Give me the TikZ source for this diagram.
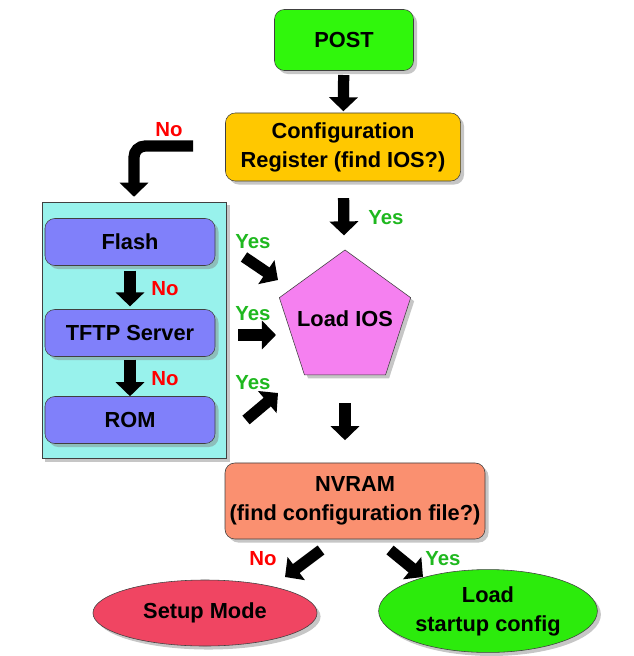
\documentclass[tikz,border=0pt]{standalone}
\usepackage{fontspec}
\setmainfont{Liberation Sans}
\usepackage{xcolor}
\usetikzlibrary{positioning, arrows.meta, shapes.geometric, shadows, calc}

\definecolor{postgreen}{HTML}{30F70C}
\definecolor{cfgyellow}{HTML}{FFC800}
\definecolor{cyanbg}{HTML}{98F2EC}
\definecolor{devblue}{HTML}{8080FA}
\definecolor{iospink}{HTML}{F580F0}
\definecolor{nvsalmon}{HTML}{FA9070}
\definecolor{setupred}{HTML}{F04562}
\definecolor{startgreen}{HTML}{2CEB0C}
\definecolor{yesgreen}{HTML}{1FB81F}

\begin{document}
\begin{tikzpicture}[
  x=0.025cm, y=-0.025cm,
  every node/.style={font=\bfseries\fontsize{15.5}{20.5}\selectfont},
  shade/.style={drop shadow={shadow xshift=2.5pt, shadow yshift=-2.5pt, opacity=0.45}},
  box/.style={draw=black!75, rounded corners=7pt, align=center, shade},
  dev/.style={box, fill=devblue, minimum width=4.25cm, minimum height=1.175cm},
  blk/.style={-{Triangle[length=10pt, width=20pt]}, line width=8pt},
  yes/.style={text=yesgreen, font=\bfseries\fontsize{14.5}{16}\selectfont},
  no/.style={text=red, font=\bfseries\fontsize{14.5}{16}\selectfont},
]
\useasboundingbox (0,0) rectangle (633,656);

% Boot start
\node[box, fill=postgreen, minimum width=3.475cm, minimum height=1.525cm] (post) at (344,40) {POST};
\node[box, fill=cfgyellow, minimum width=5.875cm, minimum height=1.7cm] (config) at (343,147) {Configuration\\Register (find IOS?)};
\draw[blk, shorten <=3pt, shorten >=1pt] (post) -- (config);

% Image sources (left)
\node[draw=black!75, fill=cyanbg, minimum width=4.6cm, minimum height=6.4cm, shade] (src) at (134,330) {};
\node[dev] (flash) at (130,242) {Flash};
\node[dev] (tftp) at (130,333) {TFTP Server};
\node[dev] (rom) at (130,420) {ROM};
\draw[blk, shorten <=3.5pt, shorten >=2pt] (flash) -- (tftp);
\draw[blk, shorten <=2pt] (tftp) -- (rom);
\node[no] at (165,289) {No};
\node[no] at (165,379) {No};

\coordinate (cfg-no) at (193,146);
\draw[blk, rounded corners=8pt, shorten >=3.5pt] (cfg-no) -| (src.north);
\node[no] at (169,130) {No};

% Load IOS
\node[regular polygon, regular polygon sides=5, draw=black!75, fill=iospink,
  minimum size=3.45cm, inner sep=0pt, shade] (ios) at (345,319) {\makebox[0pt]{Load IOS}};
\draw[blk, shorten <=12pt, shorten >=10.5pt] (config) -- (ios);
\node[yes] at (386,218) {Yes};

\coordinate (fl-out) at (244,257);
\coordinate (fl-in) at (278,280);
\coordinate (tf-out) at (238,335);
\coordinate (tf-in) at (276,335);
\coordinate (ro-out) at (246,420);
\coordinate (ro-in) at (278,393);
\draw[blk] (fl-out) -- (fl-in);
\draw[blk] (tf-out) -- (tf-in);
\draw[blk] (ro-out) -- (ro-in);
\node[yes] at (253,242) {Yes};
\node[yes] at (253,314) {Yes};
\node[yes] at (253,383) {Yes};

% Configuration file
\node[box, fill=nvsalmon, minimum width=6.25cm, minimum height=1.9cm] (nvram) at (355,501) {NVRAM\\(find configuration file?)};
\draw[blk, shorten <=20pt, shorten >=16pt] (ios) -- (ios |- nvram.north);

\node[ellipse, draw=black!75, fill=setupred, minimum width=5.6cm, minimum height=1.65cm, shade] (setup) at (205,613) {Setup Mode};
\node[ellipse, draw=black!75, fill=startgreen, minimum width=4.95cm, minimum height=1.85cm, align=center, shade] (startup) at (488,611) {Load\\startup config};

\coordinate (nv-no) at (321,550);
\coordinate (nv-yes) at (390,550);
\coordinate (setup-in) at (285,577);
\coordinate (startup-in) at (423,577);
\draw[blk] (nv-no) -- (setup-in);
\draw[blk] (nv-yes) -- (startup-in);
\node[no] at (263,559) {No};
\node[yes] at (443,559) {Yes};
\end{tikzpicture}
\end{document}
